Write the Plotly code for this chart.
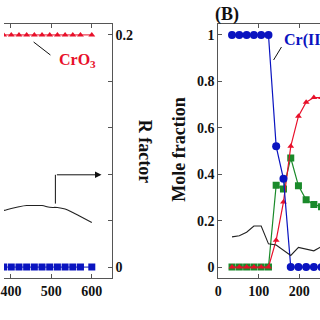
import plotly.graph_objects as go

# ---------------- data ----------------
# Panel A (left, partially visible)
a_temp = [363, 382, 401, 420, 439, 458, 477, 496, 515, 534, 553, 572, 600]
a_cro3 = [1, 1, 1, 1, 1, 1, 1, 1, 1, 1, 1, 1, 1]
a_other = [0, 0, 0, 0, 0, 0, 0, 0, 0, 0, 0, 0, 0]
a_rfac = [0.047, 0.0487, 0.0505, 0.052, 0.053, 0.053, 0.053, 0.0515, 0.0513, 0.050, 0.047, 0.0435, 0.0385]

# Panel B (right, partially visible)
b_temp = [34, 52, 70, 88, 106, 124, 143, 161, 179, 198, 217, 236, 255]
b_cr3 = [1, 1, 1, 1, 1, 1, 0.52, 0.38, 0, 0, 0, 0, 0]
b_red = [0, 0, 0, 0, 0, 0, 0.116, 0.28, 0.52, 0.65, 0.71, 0.73, 0.73]
b_green = [0, 0, 0, 0, 0, 0, 0.353, 0.336, 0.47, 0.35, 0.29, 0.27, 0.26]
b_rfac = [0.026, 0.027, 0.030, 0.0354, 0.0354, 0.020, 0.019, 0.0146, 0.010, 0.017, 0.0154, 0.014, 0.0176]

mole_ticks = [0, 0.2, 0.4, 0.6, 0.8, 1]
mole_labels = ["0", "0.2", "0.4", "0.6", "0.8", "1"]
r_ticks = [0, 0.2]
r_labels = ["0", "0.2"]

RED = "#e8102a"
BLUE = "#0a14c0"
GREEN = "#1a8a2a"
AX = "#555555"
FONT = "Liberation Serif"

fig = go.Figure()

# Panel A
fig.add_trace(go.Scatter(x=a_temp, y=a_cro3, xaxis="x", yaxis="y", mode="lines+markers",
                         line=dict(color=RED, width=1), marker=dict(symbol="triangle-up", size=6, color=RED)))
fig.add_trace(go.Scatter(x=a_temp, y=a_other, xaxis="x", yaxis="y", mode="lines+markers",
                         line=dict(color=BLUE, width=1), marker=dict(symbol="square", size=7, color=BLUE)))
fig.add_trace(go.Scatter(x=a_temp, y=a_rfac, xaxis="x", yaxis="y2", mode="lines",
                         line=dict(color="#222222", width=1.1, shape="spline")))

# Panel B
fig.add_trace(go.Scatter(x=b_temp, y=b_rfac, xaxis="x2", yaxis="y4", mode="lines",
                         line=dict(color="#222222", width=1.1)))
fig.add_trace(go.Scatter(x=b_temp, y=b_green, xaxis="x2", yaxis="y3", mode="lines+markers",
                         line=dict(color=GREEN, width=1.2), marker=dict(symbol="square", size=7, color=GREEN)))
fig.add_trace(go.Scatter(x=b_temp, y=b_red, xaxis="x2", yaxis="y3", mode="lines+markers",
                         line=dict(color=RED, width=1.2), marker=dict(symbol="triangle-up", size=6, color=RED)))
fig.add_trace(go.Scatter(x=b_temp, y=b_cr3, xaxis="x2", yaxis="y3", mode="lines+markers",
                         line=dict(color=BLUE, width=1.2), marker=dict(symbol="circle", size=8, color=BLUE)))

tickfont = dict(family=FONT, size=14, color="#111111", weight="bold")
mole_range = [-0.047, 1.047]
r_range = [v * 0.2 for v in mole_range]

common_x = dict(showline=True, linecolor=AX, linewidth=1, mirror="ticks", ticks="inside",
                ticklen=4, tickcolor=AX, showgrid=False, zeroline=False, tickfont=tickfont)

fig.update_layout(
    width=320, height=320, margin=dict(l=0, r=0, t=24, b=42),
    paper_bgcolor="white", plot_bgcolor="white", showlegend=False,
    xaxis=dict(domain=[0, 0.3406], range=[383, 649], anchor="y",
               tickvals=[400, 500, 600], **common_x),
    yaxis=dict(domain=[0, 1], range=mole_range, anchor="x", visible=False),
    yaxis2=dict(overlaying="y", side="right", anchor="x", range=r_range,
                showline=True, linecolor=AX, linewidth=1, ticks="inside", ticklen=4, tickcolor=AX,
                tickvals=r_ticks, ticktext=r_labels, showgrid=False, zeroline=False, tickfont=tickfont,
                minor=dict(tick0=0, dtick=0.04, ticks="inside", ticklen=4, tickcolor=AX, showgrid=False)),
    xaxis2=dict(domain=[0.678, 1], range=[0, 251.2], anchor="y3",
                tickvals=[0, 100, 200], **common_x),
    yaxis3=dict(domain=[0, 1], range=mole_range, anchor="x2",
                showline=True, linecolor=AX, linewidth=1, ticks="inside", ticklen=4, tickcolor=AX,
                tickvals=mole_ticks, ticktext=mole_labels, showgrid=False, zeroline=False, tickfont=tickfont),
    yaxis4=dict(overlaying="y3", anchor="x2", range=r_range, visible=False),
)

title_font = dict(family=FONT, size=18, color="#111111", weight="bold")

def px_x(p):
    return p / 320.0

def px_y(p):
    return (278.0 - p) / 254.0

def label(text, x, y, font, angle=0, xanchor="center"):
    fig.add_annotation(text=text, x=px_x(x), y=px_y(y), xref="paper", yref="paper",
                       xanchor=xanchor, yanchor="middle", textangle=angle,
                       showarrow=False, font=font)

# Axis titles & labels
label("R factor", 143, 151, title_font, angle=90)
label("Mole fraction", 177, 150, title_font, angle=-90)
label("(B)", 226, 14, title_font)
label("CrO<sub>3</sub>", 74, 61, dict(family=FONT, size=16, color=RED, weight="bold"))
label("Cr(III)", 282, 40, dict(family=FONT, size=16, color=BLUE, weight="bold"), xanchor="left")

# Leader lines
fig.add_shape(type="line", xref="paper", yref="paper", x0=px_x(30), y0=px_y(42), x1=px_x(47), y1=px_y(55),
              line=dict(color="#111111", width=1))
fig.add_shape(type="line", xref="paper", yref="paper", x0=px_x(273), y0=px_y(60), x1=px_x(281), y1=px_y(47),
              line=dict(color="#111111", width=1))

# Arrow pointing to R factor axis
fig.add_shape(type="line", xref="x", yref="y2", x0=510, y0=0.0547, x1=510, y1=0.0795,
              line=dict(color="#111111", width=1))
fig.add_annotation(x=624, y=0.0795, ax=510, ay=0.0795, xref="x", yref="y2", axref="x", ayref="y2",
                   text="", showarrow=True, arrowhead=2, arrowsize=1.3, arrowwidth=1, arrowcolor="#111111")

fig.write_html("out.html")
